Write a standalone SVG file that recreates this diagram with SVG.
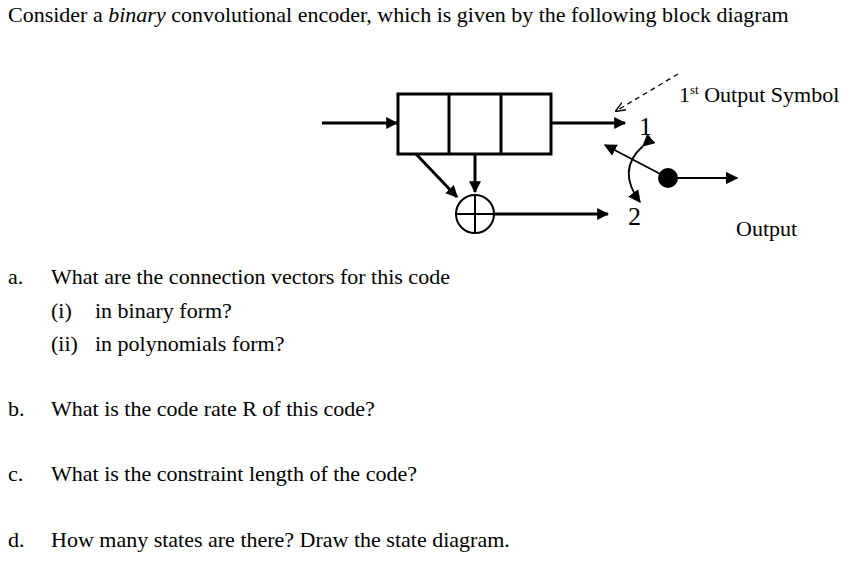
<svg xmlns="http://www.w3.org/2000/svg" width="858" height="567" viewBox="0 0 858 567">
<style>
text{font-family:"Liberation Serif",serif;font-size:22px;fill:#000}
.big{font-size:26px}
.sup{font-size:13px}
.l{stroke:#000;stroke-width:3;fill:none}
.t{stroke:#000;stroke-width:1.8;fill:none}
</style>
<defs>
<marker id="a" viewBox="0 0 10 10" refX="9" refY="5" markerWidth="4" markerHeight="4" orient="auto"><path d="M0,0L10,5L0,10z"/></marker>
<marker id="b" viewBox="0 0 10 10" refX="9" refY="5" markerWidth="7" markerHeight="7" orient="auto"><path d="M0,0L10,5L0,10z"/></marker>
<marker id="o" viewBox="0 0 10 10" refX="9" refY="5" markerWidth="8" markerHeight="8" orient="auto"><path d="M0,1L10,5L0,9" fill="none" stroke="#000" stroke-width="1.3"/></marker>
</defs>
<rect width="858" height="567" fill="#fff"/>
<text x="8" y="22">Consider a <tspan font-style="italic">binary</tspan> convolutional encoder, which is given by the following block diagram</text>
<g id="register"><rect x="398" y="94" width="153" height="60" class="l"/><line x1="449" y1="94" x2="449" y2="154" class="l"/><line x1="501" y1="94" x2="501" y2="154" class="l"/></g>
<g id="adder"><circle cx="475" cy="214" r="19" stroke="#000" stroke-width="2" fill="#fff"/><line x1="456" y1="214" x2="494" y2="214" stroke="#000" stroke-width="2"/><line x1="475" y1="195" x2="475" y2="233" stroke="#000" stroke-width="2"/></g>
<g id="switch"><circle cx="668" cy="178" r="10"/></g>
<g id="connectors">
<line x1="322" y1="123" x2="397" y2="123" class="l" marker-end="url(#a)"/>
<line x1="551" y1="123" x2="625" y2="123" class="l" marker-end="url(#a)"/>
<line x1="416" y1="154" x2="457" y2="197" class="l" marker-end="url(#a)"/>
<line x1="475" y1="154" x2="475" y2="192" class="l" marker-end="url(#a)"/>
<line x1="494" y1="214" x2="608" y2="214" class="l" marker-end="url(#a)"/>
<line x1="668" y1="178" x2="605" y2="145" class="t" marker-end="url(#b)"/>
<line x1="678" y1="178" x2="737" y2="178" class="t" marker-end="url(#b)"/>
<path d="M643,146 Q616,170 640,202" class="t" marker-start="url(#b)" marker-end="url(#b)"/>
<line x1="678" y1="74" x2="616" y2="111" stroke="#000" stroke-width="1.3" stroke-dasharray="5,4" marker-end="url(#o)"/>
</g>
<text x="639" y="135" class="big">1</text>
<text x="628" y="225" class="big">2</text>
<text x="679" y="102">1<tspan class="sup" dy="-8">st</tspan><tspan dy="8"> Output Symbol</tspan></text>
<text x="736" y="236">Output</text>
<text x="8" y="284">a.</text><text x="51" y="284">What are the connection vectors for this code</text>
<text x="51" y="318">(i)</text><text x="95" y="318">in binary form?</text>
<text x="51" y="351">(ii)</text><text x="95" y="351">in polynomials form?</text>
<text x="8" y="416">b.</text><text x="51" y="416">What is the code rate R of this code?</text>
<text x="8" y="481">c.</text><text x="51" y="481">What is the constraint length of the code?</text>
<text x="8" y="547">d.</text><text x="51" y="547">How many states are there? Draw the state diagram.</text>
</svg>
